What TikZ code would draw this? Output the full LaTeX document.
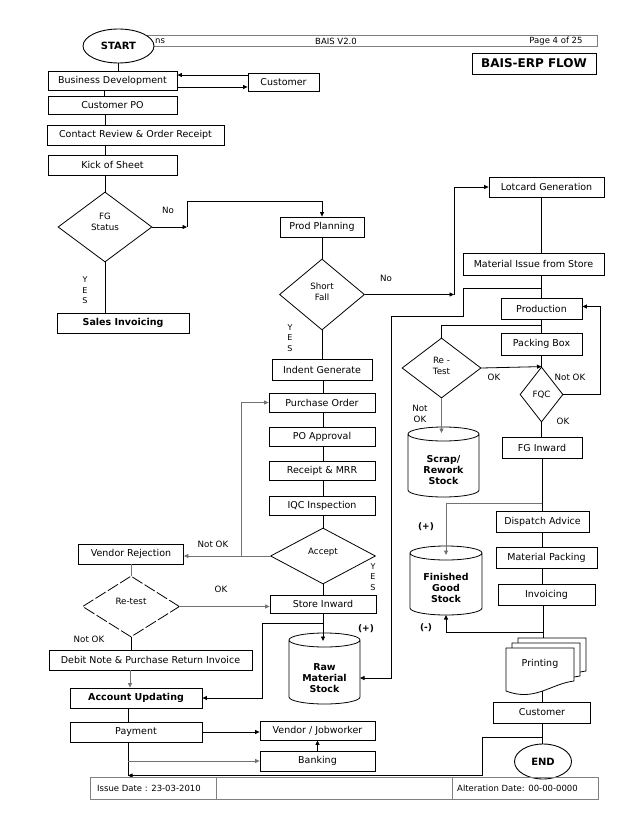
\documentclass[tikz,border=0pt]{standalone}
\usepackage{fontspec}
\setmainfont{DejaVu Sans}
\usetikzlibrary{shapes.geometric,arrows.meta,calc}
\newcommand\drawcyl[2]{\draw[line width=0.8pt, fill=white] ([yshift=-7pt]#1.north west) -- ([yshift=7pt]#1.south west) arc[start angle=180,end angle=360,x radius=#2pt,y radius=7pt] -- ([yshift=-7pt]#1.north east) arc[start angle=0,end angle=180,x radius=#2pt,y radius=7pt] arc[start angle=180,end angle=360,x radius=#2pt,y radius=7pt];}
\begin{document}
\begin{tikzpicture}[x=1pt,y=-1pt,
 box/.style={draw, line width=0.8pt, inner sep=0pt, font=\fontsize{9.5}{11}\selectfont, align=center},
 bbox/.style={box, font=\fontsize{9.5}{11}\selectfont\bfseries},
 dia/.style={diamond, draw, line width=0.8pt, inner sep=0pt, aspect=1},
 dtext/.style={font=\fontsize{8.7}{11}\selectfont, align=center, inner sep=0pt},
 ctext/.style={font=\fontsize{9.5}{11}\selectfont\bfseries, align=center, inner sep=0pt},
 lab/.style={font=\fontsize{8.7}{10.5}\selectfont, inner sep=0pt, align=center},
 blab/.style={font=\fontsize{9}{11}\selectfont\bfseries, inner sep=0pt},
 hdr/.style={font=\fontsize{8.5}{10}\selectfont, inner sep=0pt},
 ln/.style={line width=0.8pt},
 gln/.style={line width=0.8pt, draw=black!55},
 arr/.style={ln, -{Triangle[length=4.5pt,width=4pt]}},
 garr/.style={gln, -{Triangle[length=4.5pt,width=4pt]}},
 cylbox/.style={inner sep=0pt, outer sep=0pt},
]
\useasboundingbox (0,0) rectangle (638,826);
\fill[white] (0,0) rectangle (638,826);

% header
\draw[draw=black!50, line width=0.7pt] (140,35) -- (597,35) -- (597,46) -- (140,46);
\node[hdr, anchor=west] (h1) at (155,41) {ns};
\node[hdr] (h2) at (336,41) {BAIS V2.0};
\node[hdr] (h3) at (556,41) {Page 4 of 25};
\node[ellipse, draw, line width=0.9pt, fill=white, minimum width=71pt, minimum height=34pt, inner sep=0pt, font=\fontsize{10}{12}\selectfont\bfseries] (S) at (118.5,46) {START};
\node[draw, line width=0.8pt, minimum width=124pt, minimum height=21pt, inner sep=0pt, font=\fontsize{12}{14}\selectfont\bfseries] (T) at (534,63.5) {BAIS-ERP FLOW};

% left column
\node[box, minimum width=129pt, minimum height=19pt] (BD) at (112.5,80.5) {Business Development};
\node[box, minimum width=71pt, minimum height=18pt] (CU1) at (283.5,82) {Customer};
\node[box, minimum width=129pt, minimum height=18pt] (CPO) at (112.5,105) {Customer PO};
\node[box, minimum width=177pt, minimum height=20pt] (CR) at (135.5,135) {Contact Review \& Order Receipt};
\node[box, minimum width=129pt, minimum height=20pt] (KS) at (112.5,165) {Kick of Sheet};
\node[dia, minimum width=94pt, minimum height=70pt, label={[dtext,yshift=5pt]center:FG\\Status}] (FG) at (105,227) {};
\node[bbox, minimum width=132pt, minimum height=20pt] (SI) at (123,323) {Sales Invoicing};

% middle column
\node[box, minimum width=84pt, minimum height=20pt] (PP) at (322,227) {Prod Planning};
\node[dia, minimum width=85pt, minimum height=71pt, label={[dtext,yshift=3pt]center:Short\\Fall}] (SF) at (322,294.5) {};
\node[box, minimum width=100pt, minimum height=21pt] (IG) at (322,369.5) {Indent Generate};
\node[box, minimum width=106pt, minimum height=19pt] (PO) at (322,402.5) {Purchase Order};
\node[box, minimum width=106pt, minimum height=19pt] (POA) at (322,436.5) {PO Approval};
\node[box, minimum width=106pt, minimum height=19pt] (RM) at (322,470.5) {Receipt \& MRR};
\node[box, minimum width=106pt, minimum height=19pt] (IQC) at (322,505.5) {IQC Inspection};
\node[dia, minimum width=105pt, minimum height=56pt, label={[dtext,yshift=4pt]center:Accept}] (ACC) at (323,556) {};
\node[box, minimum width=105pt, minimum height=20pt] (VR) at (131,554) {Vendor Rejection};
\node[dia, dash pattern=on 12pt off 2.5pt, minimum width=97pt, minimum height=61pt, label={[dtext,yshift=5pt]center:Re-test}] (RT) at (131,606.5) {};
\node[box, minimum width=106pt, minimum height=18pt] (SI2) at (323,604) {Store Inward};
\node[cylbox, minimum width=71pt, minimum height=71pt] (RMS) at (324.5,668.5) {};
\drawcyl{RMS}{35.5}
\node[ctext] (RMSt) at (324.5,678) {Raw\\Material\\Stock};
\node[box, minimum width=203pt, minimum height=20pt] (DN) at (150.5,660) {Debit Note \& Purchase Return Invoice};
\node[bbox, minimum width=132pt, minimum height=20pt] (AU) at (136,698) {Account Updating};
\node[box, minimum width=132pt, minimum height=20pt] (PAY) at (136,732) {Payment};
\node[box, minimum width=115pt, minimum height=19pt] (VJ) at (317.5,730.5) {Vendor / Jobworker};
\node[box, minimum width=115pt, minimum height=20pt] (BK) at (317.5,761) {Banking};

% right column
\node[box, minimum width=115pt, minimum height=20pt] (LG) at (546.5,187) {Lotcard Generation};
\node[box, minimum width=141pt, minimum height=22pt] (MIS) at (533.5,264) {Material Issue from Store};
\node[box, minimum width=81pt, minimum height=21pt] (PR) at (541.5,308.5) {Production};
\node[box, minimum width=81pt, minimum height=22pt] (PB) at (541.5,344) {Packing Box};
\node[dia, minimum width=79pt, minimum height=60pt, label={[dtext,yshift=2pt]center:Re -\\Test}] (RTT) at (441.5,368) {};
\node[dia, minimum width=43pt, minimum height=55pt, label={[dtext]center:FQC}] (FQC) at (541.5,394.5) {};
\node[box, minimum width=80pt, minimum height=21pt] (FGI) at (542,447.5) {FG Inward};
\node[cylbox, minimum width=71pt, minimum height=70pt] (SCR) at (443.5,462) {};
\drawcyl{SCR}{35.5}
\node[ctext] (SCRt) at (443.5,470) {Scrap/\\Rework\\Stock};
\node[box, minimum width=93pt, minimum height=21pt] (DA) at (542.5,521.5) {Dispatch Advice};
\node[box, minimum width=101pt, minimum height=21pt] (MP) at (546.5,557.5) {Material Packing};
\node[box, minimum width=97pt, minimum height=21pt] (INV) at (546.5,594.5) {Invoicing};
\node[cylbox, minimum width=72pt, minimum height=69pt] (FGS) at (446,580.5) {};
\drawcyl{FGS}{36}
\node[ctext] (FGSt) at (446,587.5) {Finished\\Good\\Stock};
\foreach \dx/\dy in {12/-10, 6/-5, 0/0}
  \draw[ln, fill=white, shift={(\dx,\dy)}] (506,648) -- (574,648) -- (574,681) .. controls (550,684) and (535,702) .. (506,691) -- cycle;
\node[box, draw=none] (PRT) at (540,664) {Printing};
\coordinate (PRTtop) at (543,638);
\coordinate (PRTbot) at (542,691);
\node[box, minimum width=97pt, minimum height=21pt] (CU2) at (542,712.5) {Customer};
\node[ellipse, draw, line width=0.9pt, minimum width=57pt, minimum height=35pt, inner sep=0pt, font=\fontsize{10}{12}\selectfont\bfseries] (END) at (543,761.5) {END};

% labels
\node[lab] (l1) at (168,210) {No};
\node[lab] (l2) at (386,278) {No};
\node[lab, font=\fontsize{8}{10.5}\selectfont] (y1) at (85,290.5) {Y\\E\\S};
\node[lab, font=\fontsize{8}{10.5}\selectfont] (y2) at (290,338) {Y\\E\\S};
\node[lab, font=\fontsize{8}{10.5}\selectfont] (y3) at (373,577) {Y\\E\\S};
\node[lab] (l3) at (213,544) {Not OK};
\node[lab] (l4) at (221,589) {OK};
\node[lab] (l5) at (89,639) {Not OK};
\node[blab] (l6) at (366,629) {(+)};
\node[lab] (l7) at (494,377) {OK};
\node[lab] (l8) at (570,377) {Not OK};
\node[lab] (l9) at (563,421) {OK};
\node[lab] (l10) at (420,414) {Not\\OK};
\node[blab] (l11) at (426,527) {(+)};
\node[blab] (l12) at (426,628) {(-)};

% connectors
\draw[ln] (S.south) -- (S.south |- BD.north);
\draw[arr] ([yshift=7pt]CU1.west) -- ([yshift=7pt]CU1.west -| BD.east);
\draw[arr] ([yshift=-6.5pt]BD.east) -- ([yshift=-6.5pt]BD.east -| CU1.west);
\draw[ln] ([xshift=-8.5pt]BD.south) -- ([xshift=-8.5pt]BD.south |- CPO.north);
\draw[ln] ([xshift=-7.5pt]CPO.south) -- ([xshift=-7.5pt]CPO.south |- CR.north);
\draw[ln] ([xshift=-7.5pt]KS.north) -- ([xshift=-7.5pt]KS.north |- CR.south);
\draw[ln] (FG.north) -- (FG.north |- KS.south);
\draw[ln] (FG.south) -- (FG.south |- SI.north);
\coordinate (n1) at (187,227);
\draw[arr] (FG.east) -- (n1);
\draw[arr] (n1) |- ($(PP.north)+(0,-15)$) -- (PP.north);
\draw[ln] (PP.south) -- (SF.north);
\coordinate (n2) at (454,294.5);
\draw[arr] (SF.east) -- (n2);
\draw[arr] (n2) |- (LG.west);
\draw[ln] (SF.south) -- (IG.north);
\draw[ln] ([xshift=1pt]IG.south) -- ([xshift=1pt]PO.north);
\draw[ln] ([xshift=1pt]PO.south) -- ([xshift=1pt]POA.north);
\draw[ln] ([xshift=1pt]POA.south) -- ([xshift=1pt]RM.north);
\draw[ln] ([xshift=1pt]RM.south) -- ([xshift=1pt]IQC.north);
\draw[ln] (ACC.north) -- (ACC.north |- IQC.south);
\draw[garr] (ACC.west) -- (ACC.west -| VR.east);
\coordinate (n3) at (241,556);
\draw[garr] (n3) |- (PO.west);
\draw[gln] (VR.south) -- (RT.north);
\draw[garr] (RT.east) -- (RT.east -| SI2.west);
\draw[ln] (ACC.south) -- (ACC.south |- SI2.north);
\draw[arr] (SI2.south) -- ([yshift=-8pt]SI2.south |- RMS.north);
\draw[arr] ([yshift=-10pt]SI2.south) -- ++(-61,0) |- (AU.east);
\coordinate (m0) at (541.5,288);
\coordinate (r1) at (391,678);
\draw[arr] (m0) -- (463,288) -- (463,316) -- (391,316) -- (r1) -- (r1 -| RMS.east);
\draw[ln] (PR.north |- LG.south) -- (PR.north |- MIS.north);
\draw[ln] (PR.north |- MIS.south) -- (PR.north);
\draw[ln] (PR.south) -- (PB.north);
\coordinate (p1) at (541.5,325);
\draw[ln] (p1) -| (RTT.north);
\draw[ln] (PB.south) -- (FQC.north);
\draw[arr] (RTT.east) -- (FQC.north);
\draw[arr] (FQC.east) -- ++(37,0) |- ([yshift=2pt]PR.east);
\draw[ln] (FQC.south) -- (FQC.south |- FGI.north);
\draw[garr] (RTT.south) -- ([yshift=-6pt]RTT.south |- SCR.north);
\draw[ln] (FGI.south) -- (FGI.south |- DA.north);
\coordinate (f1) at (542,503);
\draw[garr] (f1) -| ([yshift=-9pt]FGS.north);
\draw[ln] (DA.south) -- (DA.south |- MP.north);
\draw[ln] (DA.south |- MP.south) -- (DA.south |- INV.north);
\draw[ln] (PRTtop |- INV.south) -- (PRTtop);
\coordinate (i1) at (543,632);
\draw[arr] (i1) -| (FGS.south);
\draw[ln] (PRTbot) -- (PRTbot |- CU2.north);
\draw[ln] (CU2.south) -- (CU2.south |- END.north);
\coordinate (e1) at (542,737);
\coordinate (e2) at (482,775.5);
\coordinate (pv) at (128,775.5);
\draw[arr] (e1) -| (e2) -- (pv);
\draw[ln] ([xshift=-8pt]PAY.south) -- (pv);
\coordinate (b1) at (128,761);
\draw[garr] (b1) -- (b1 -| BK.west);
\draw[arr] (PAY.east) -- (PAY.east -| VJ.west);
\draw[arr] (BK.north) -- (VJ.south);
\draw[ln] (RT.south) -- (RT.south |- DN.north);
\draw[garr] ([xshift=-6pt]AU.north |- DN.south) -- ([xshift=-6pt]AU.north);
\draw[ln] ([xshift=-8pt]AU.south) -- ([xshift=-8pt]PAY.north);

% footer
\draw[draw=black!50, line width=0.7pt] (90,777) rectangle (598,799);
\draw[draw=black!50, line width=0.7pt] (216,777) -- (216,799);
\draw[draw=black!50, line width=0.7pt] (452,777) -- (452,799);
\node[hdr, anchor=west] (ft1) at (97,788.5) {Issue Date : 23-03-2010};
\node[hdr, anchor=west] (ft2) at (457,788.5) {Alteration Date: 00-00-0000};
\end{tikzpicture}
\end{document}
